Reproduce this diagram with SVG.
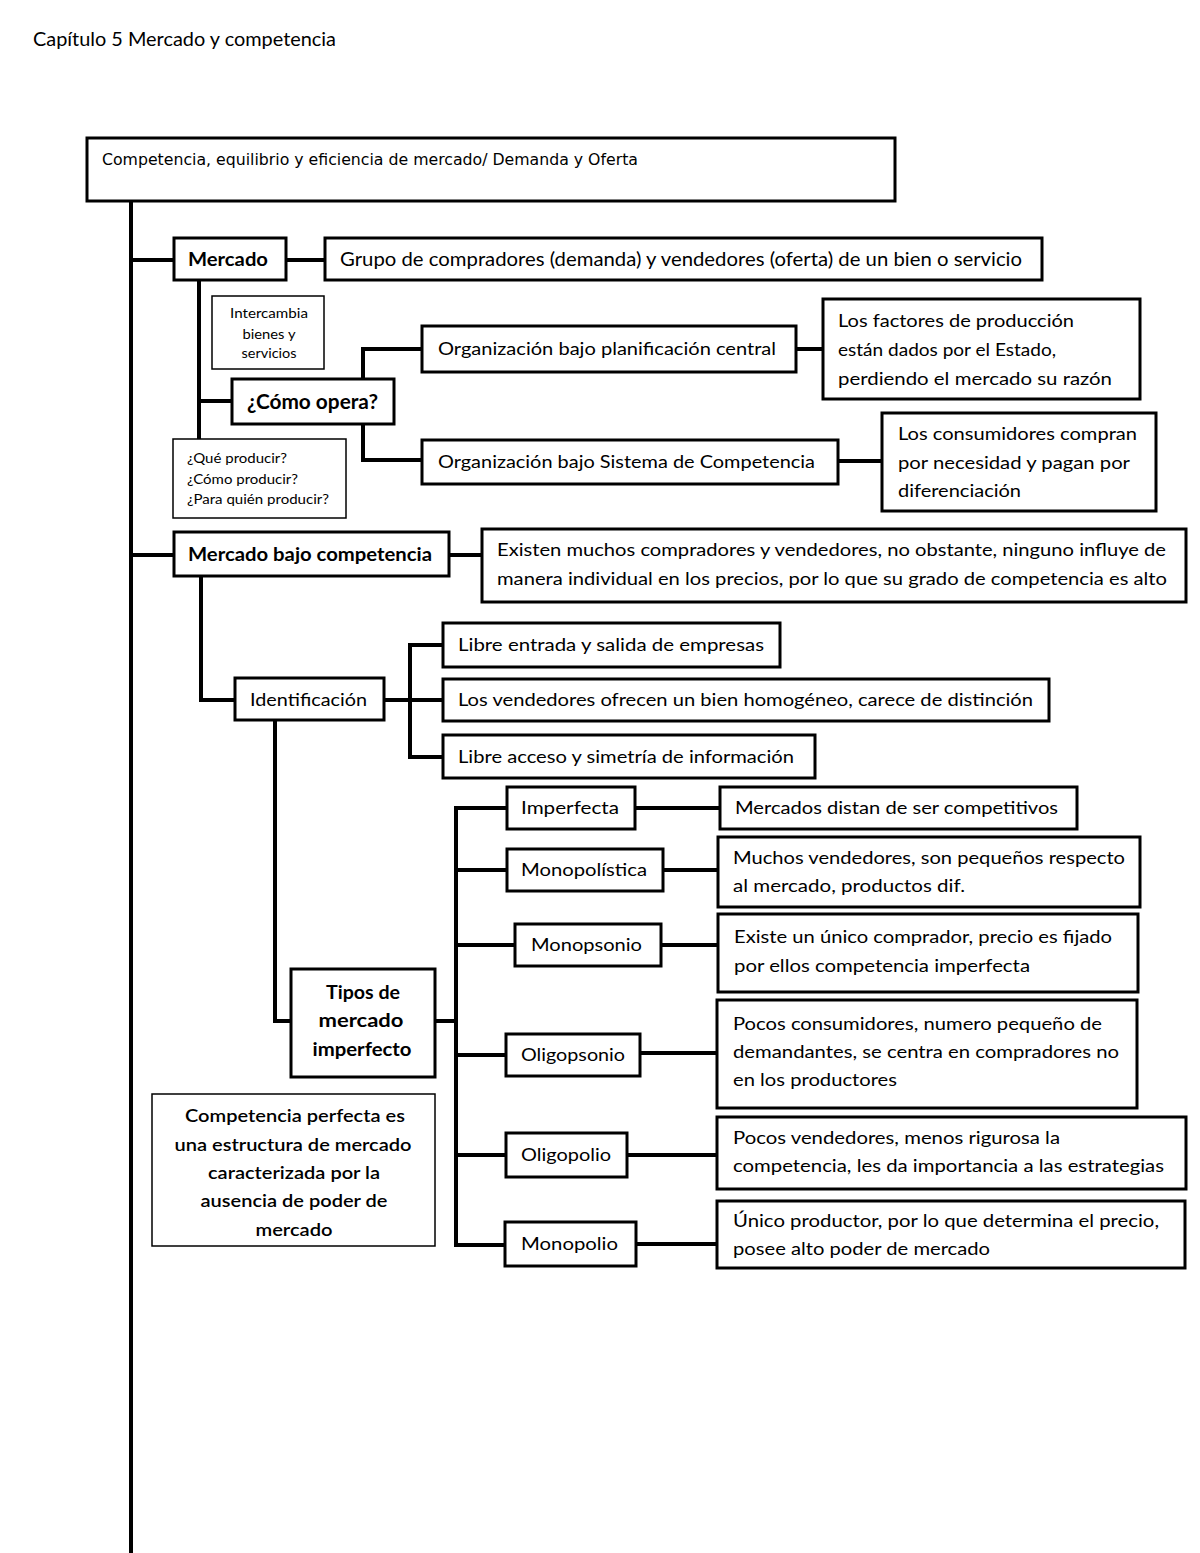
<svg xmlns="http://www.w3.org/2000/svg" width="1200" height="1553" viewBox="0 0 1200 1553">
<style>
.bg{fill:#fff}
.box{fill:#fff;stroke:#000;stroke-width:3}
.thin{fill:#fff;stroke:#000;stroke-width:1.5}
.c{fill:none;stroke:#000;stroke-width:4}
text{font-family:Lato,"Liberation Sans",sans-serif;font-size:18px;fill:#000}
.b{font-weight:bold}
.s{font-size:13px}
.m{text-anchor:middle}
</style>
<rect class="bg" x="0" y="0" width="1200" height="1553"/>
<text x="33" y="46" textLength="303" lengthAdjust="spacingAndGlyphs" style="font-size:19px">Capítulo 5 Mercado y competencia</text>

<g id="connectors">
<path class="c" d="M131 201 V1553"/>
<path class="c" d="M131 260 H174"/>
<path class="c" d="M286 260 H325"/>
<path class="c" d="M199 280 V439"/>
<path class="c" d="M199 401 H232"/>
<path class="c" d="M422 349 H363 V460 H422"/>
<path class="c" d="M796 349 H823"/>
<path class="c" d="M838 461 H882"/>
<path class="c" d="M131 555 H174"/>
<path class="c" d="M449 555 H482"/>
<path class="c" d="M201 576 V700 H235"/>
<path class="c" d="M384 700 H443"/>
<path class="c" d="M443 645 H410 V757 H443"/>
<path class="c" d="M275 720 V1021 H291"/>
<path class="c" d="M435 1021 H456"/>
<path class="c" d="M507 808 H456 V1245 H505"/>
<path class="c" d="M456 870 H507"/>
<path class="c" d="M456 945 H515"/>
<path class="c" d="M456 1055 H506"/>
<path class="c" d="M456 1155 H506"/>
<path class="c" d="M635 808 H720"/>
<path class="c" d="M663 870 H718"/>
<path class="c" d="M661 945 H718"/>
<path class="c" d="M640 1053 H717"/>
<path class="c" d="M627 1155 H717"/>
<path class="c" d="M636 1244 H717"/>
</g>

<g id="n-root">
<rect class="box" x="87" y="138" width="808" height="63"/>
<text x="102" y="165" textLength="536" lengthAdjust="spacingAndGlyphs" style="font-size:16px;font-family:'DejaVu Sans',sans-serif">Competencia, equilibrio y eficiencia de mercado/ Demanda y Oferta</text>
</g>

<g id="n-mercado">
<rect class="box" x="174" y="238" width="112" height="42"/>
<text class="b" x="188" y="266" textLength="80" lengthAdjust="spacingAndGlyphs" style="font-size:19px">Mercado</text>
</g>
<g id="n-grupo">
<rect class="box" x="325" y="238" width="717" height="42"/>
<text x="340" y="266" textLength="682" lengthAdjust="spacingAndGlyphs" style="font-size:19px">Grupo de compradores (demanda) y vendedores (oferta) de un bien o servicio</text>
</g>
<g id="n-intercambia">
<rect class="thin" x="212" y="296" width="112" height="73"/>
<text class="s m" x="269" y="318" textLength="78" lengthAdjust="spacingAndGlyphs">Intercambia</text>
<text class="s m" x="269" y="339" textLength="53" lengthAdjust="spacingAndGlyphs">bienes y</text>
<text class="s m" x="269" y="358" textLength="55" lengthAdjust="spacingAndGlyphs">servicios</text>
</g>
<g id="n-como">
<rect class="box" x="232" y="379" width="162" height="45"/>
<text class="b" x="247" y="409" textLength="131" lengthAdjust="spacingAndGlyphs" style="font-size:21px">¿Cómo opera?</text>
</g>
<g id="n-que">
<rect class="thin" x="173" y="439" width="173" height="79"/>
<text class="s" x="187" y="463" textLength="100" lengthAdjust="spacingAndGlyphs">¿Qué producir?</text>
<text class="s" x="187" y="484" textLength="111" lengthAdjust="spacingAndGlyphs">¿Cómo producir?</text>
<text class="s" x="187" y="504" textLength="142" lengthAdjust="spacingAndGlyphs">¿Para quién producir?</text>
</g>
<g id="n-orgplan">
<rect class="box" x="422" y="326" width="374" height="46"/>
<text x="438" y="355" textLength="338" lengthAdjust="spacingAndGlyphs">Organización bajo planificación central</text>
</g>
<g id="n-factores">
<rect class="box" x="823" y="299" width="317" height="100"/>
<text x="838" y="327" textLength="236" lengthAdjust="spacingAndGlyphs">Los factores de producción</text>
<text x="838" y="356" textLength="218" lengthAdjust="spacingAndGlyphs">están dados por el Estado,</text>
<text x="838" y="385" textLength="274" lengthAdjust="spacingAndGlyphs">perdiendo el mercado su razón</text>
</g>
<g id="n-orgsis">
<rect class="box" x="422" y="440" width="416" height="44"/>
<text x="438" y="468" textLength="377" lengthAdjust="spacingAndGlyphs">Organización bajo Sistema de Competencia</text>
</g>
<g id="n-consumidores">
<rect class="box" x="882" y="413" width="274" height="98"/>
<text x="898" y="440" textLength="239" lengthAdjust="spacingAndGlyphs">Los consumidores compran</text>
<text x="898" y="469" textLength="232" lengthAdjust="spacingAndGlyphs">por necesidad y pagan por</text>
<text x="898" y="497" textLength="123" lengthAdjust="spacingAndGlyphs">diferenciación</text>
</g>

<g id="n-mbc">
<rect class="box" x="174" y="532" width="275" height="44"/>
<text class="b" x="188" y="561" textLength="244" lengthAdjust="spacingAndGlyphs">Mercado bajo competencia</text>
</g>
<g id="n-existen">
<rect class="box" x="482" y="529" width="704" height="73"/>
<text x="497" y="556" textLength="669" lengthAdjust="spacingAndGlyphs">Existen muchos compradores y vendedores, no obstante, ninguno influye de</text>
<text x="497" y="585" textLength="670" lengthAdjust="spacingAndGlyphs">manera individual en los precios, por lo que su grado de competencia es alto</text>
</g>
<g id="n-ident">
<rect class="box" x="235" y="678" width="149" height="42"/>
<text x="250" y="706" textLength="117" lengthAdjust="spacingAndGlyphs">Identificación</text>
</g>
<g id="n-libre1">
<rect class="box" x="443" y="623" width="337" height="44"/>
<text x="458" y="651" textLength="306" lengthAdjust="spacingAndGlyphs">Libre entrada y salida de empresas</text>
</g>
<g id="n-vend">
<rect class="box" x="443" y="679" width="606" height="42"/>
<text x="458" y="706" textLength="575" lengthAdjust="spacingAndGlyphs">Los vendedores ofrecen un bien homogéneo, carece de distinción</text>
</g>
<g id="n-libre2">
<rect class="box" x="443" y="735" width="372" height="43"/>
<text x="458" y="763" textLength="336" lengthAdjust="spacingAndGlyphs">Libre acceso y simetría de información</text>
</g>

<g id="n-tipos">
<rect class="box" x="291" y="969" width="144" height="108"/>
<text class="b m" x="363" y="999" textLength="74" lengthAdjust="spacingAndGlyphs">Tipos de</text>
<text class="b m" x="361" y="1027" textLength="85" lengthAdjust="spacingAndGlyphs">mercado</text>
<text class="b m" x="362" y="1056" textLength="99" lengthAdjust="spacingAndGlyphs">imperfecto</text>
</g>
<g id="n-perfecta">
<rect class="thin" x="152" y="1094" width="283" height="152"/>
<text class="m" x="295" y="1122" textLength="220" lengthAdjust="spacingAndGlyphs" style="font-weight:600">Competencia perfecta es</text>
<text class="m" x="293" y="1151" textLength="237" lengthAdjust="spacingAndGlyphs" style="font-weight:600">una estructura de mercado</text>
<text class="m" x="294" y="1179" textLength="172" lengthAdjust="spacingAndGlyphs" style="font-weight:600">caracterizada por la</text>
<text class="m" x="294" y="1207" textLength="187" lengthAdjust="spacingAndGlyphs" style="font-weight:600">ausencia de poder de</text>
<text class="m" x="294" y="1236" textLength="77" lengthAdjust="spacingAndGlyphs" style="font-weight:600">mercado</text>
</g>

<g id="n-imperfecta">
<rect class="box" x="507" y="787" width="128" height="42"/>
<text x="521" y="814" textLength="98" lengthAdjust="spacingAndGlyphs">Imperfecta</text>
</g>
<g id="n-mercados">
<rect class="box" x="720" y="787" width="357" height="42"/>
<text x="735" y="814" textLength="323" lengthAdjust="spacingAndGlyphs">Mercados distan de ser competitivos</text>
</g>
<g id="n-monopolistica">
<rect class="box" x="507" y="849" width="156" height="42"/>
<text x="521" y="876" textLength="126" lengthAdjust="spacingAndGlyphs">Monopolística</text>
</g>
<g id="n-muchos">
<rect class="box" x="718" y="837" width="422" height="70"/>
<text x="733" y="864" textLength="392" lengthAdjust="spacingAndGlyphs">Muchos vendedores, son pequeños respecto</text>
<text x="733" y="892" textLength="232" lengthAdjust="spacingAndGlyphs">al mercado, productos dif.</text>
</g>
<g id="n-monopsonio">
<rect class="box" x="515" y="924" width="146" height="42"/>
<text x="531" y="951" textLength="111" lengthAdjust="spacingAndGlyphs">Monopsonio</text>
</g>
<g id="n-existe">
<rect class="box" x="718" y="914" width="420" height="78"/>
<text x="734" y="943" textLength="378" lengthAdjust="spacingAndGlyphs">Existe un único comprador, precio es fijado</text>
<text x="734" y="972" textLength="296" lengthAdjust="spacingAndGlyphs">por ellos competencia imperfecta</text>
</g>
<g id="n-oligopsonio">
<rect class="box" x="506" y="1034" width="134" height="42"/>
<text x="521" y="1061" textLength="104" lengthAdjust="spacingAndGlyphs">Oligopsonio</text>
</g>
<g id="n-pocoscons">
<rect class="box" x="717" y="1000" width="420" height="108"/>
<text x="733" y="1030" textLength="369" lengthAdjust="spacingAndGlyphs">Pocos consumidores, numero pequeño de</text>
<text x="733" y="1058" textLength="386" lengthAdjust="spacingAndGlyphs">demandantes, se centra en compradores no</text>
<text x="733" y="1086" textLength="164" lengthAdjust="spacingAndGlyphs">en los productores</text>
</g>
<g id="n-oligopolio">
<rect class="box" x="506" y="1133" width="121" height="44"/>
<text x="521" y="1161" textLength="90" lengthAdjust="spacingAndGlyphs">Oligopolio</text>
</g>
<g id="n-pocosvend">
<rect class="box" x="717" y="1117" width="469" height="72"/>
<text x="733" y="1144" textLength="327" lengthAdjust="spacingAndGlyphs">Pocos vendedores, menos rigurosa la</text>
<text x="733" y="1172" textLength="431" lengthAdjust="spacingAndGlyphs">competencia, les da importancia a las estrategias</text>
</g>
<g id="n-monopolio">
<rect class="box" x="505" y="1222" width="131" height="44"/>
<text x="521" y="1250" textLength="97" lengthAdjust="spacingAndGlyphs">Monopolio</text>
</g>
<g id="n-unico">
<rect class="box" x="717" y="1201" width="468" height="67"/>
<text x="733" y="1227" textLength="426" lengthAdjust="spacingAndGlyphs">Único productor, por lo que determina el precio,</text>
<text x="733" y="1255" textLength="257" lengthAdjust="spacingAndGlyphs">posee alto poder de mercado</text>
</g>
</svg>
